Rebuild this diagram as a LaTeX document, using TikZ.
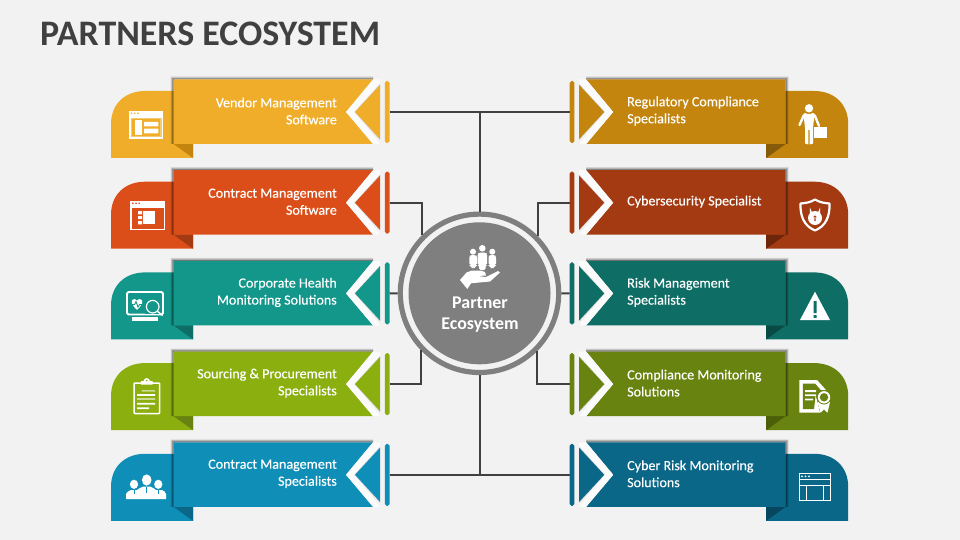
\documentclass[tikz,border=0pt]{standalone}
\usepackage{fontspec}
\setmainfont{Carlito}
\newfontfamily\lblfont[FakeBold=0.25]{Carlito}
\definecolor{bgc}{HTML}{F2F2F2}
\definecolor{linec}{HTML}{404040}
\definecolor{hubc}{HTML}{7F7F7F}
\definecolor{ca}{HTML}{F0AD29}\definecolor{cad}{HTML}{C3850E}
\definecolor{cb}{HTML}{DC4E19}\definecolor{cbd}{HTML}{A33A12}
\definecolor{cc}{HTML}{12978A}\definecolor{ccd}{HTML}{0E6E66}
\definecolor{cd}{HTML}{8CAF10}\definecolor{cdd}{HTML}{68830F}
\definecolor{ce}{HTML}{0F8FB8}\definecolor{ced}{HTML}{0A6788}
\definecolor{cf}{HTML}{855A08}\definecolor{cg}{HTML}{6E2509}
\definecolor{ch}{HTML}{0A4A45}\definecolor{ci}{HTML}{4B5F08}
\definecolor{cj}{HTML}{06465E}
\tikzset{
  conn/.style={draw=linec,line width=2pt},
  barnode/.style={rectangle,rounded corners=1.8pt,minimum width=4.6pt,minimum height=62pt,inner sep=0pt,outer sep=0pt,fill=#1},
  lbl/.style={text=white,font=\lblfont\fontsize{14.05}{17}\selectfont,inner sep=0pt},
}
% #1 dy, #2 colour, #3 fold colour, #4 bar name
\newcommand\ribbon[4]{%
 \begin{scope}[shift={(0,#1)}]
  \fill[#2] (111,158)--(111,124) .. controls (111,104) and (125,91) .. (145,91)--(193,91)--(193,158)--cycle;
  \fill[#3] (173.5,144)--(193,144)--(193,158)--cycle;
  \foreach \o/\a in {3/.10,2.2/.14,1.4/.18,.7/.22}{
   \fill[black,opacity=\a] (173.5-\o,144)--(173.5-\o,79.5-\o)--(373,79.5-\o)--(373,79.5)--(173.5,79.5)--(173.5,144)--cycle;}
  \fill[#2] (173.5,79.5)--(373,79.5)--(346,112)--(373,144)--(173.5,144)--cycle;
  \fill[white!70!bgc] (373,79.5)--(346,112)--(373,144)--(380,144)--(355,112)--(380,84)--(380,79.5)--cycle;
  \draw[black!18,line width=.8pt] (380,84.5)--(355,112)--(380,139.5);
  \fill[#2] (380,85)--(355,112)--(380,139)--cycle;
  \node[barnode=#2] (#4) at (387.2,112) {};
 \end{scope}}
\begin{document}
\begin{tikzpicture}[x=1pt,y=-1pt]
\useasboundingbox (0,0) rectangle (960,540);
\fill[bgc] (0,0) rectangle (960,540);
\node[anchor=base west,inner sep=0pt,text=linec,font=\fontsize{35.9}{36}\selectfont\bfseries] (title) at (40,46) {PARTNERS ECOSYSTEM};

% left ribbons
\ribbon{0}{ca}{cad}{barA}
\ribbon{90.7}{cb}{cbd}{barB}
\ribbon{181.4}{cc}{ccd}{barC}
\ribbon{272.1}{cd}{cdd}{barD}
\ribbon{362.8}{ce}{ced}{barE}
% right ribbons (mirrored)
\begin{scope}[shift={(959.2,0)},xscale=-1]
\ribbon{0}{cad}{cf}{barF}
\ribbon{90.7}{cbd}{cg}{barG}
\ribbon{181.4}{ccd}{ch}{barH}
\ribbon{272.1}{cdd}{ci}{barI}
\ribbon{362.8}{ced}{cj}{barJ}
\end{scope}

% hub
\node[circle,draw=hubc,line width=5.2pt,fill=bgc,minimum size=158.4pt,inner sep=0pt,outer sep=2.6pt] (hub) at (479.5,293.3) {};
\node[circle,fill=hubc,minimum size=142pt,inner sep=0pt] (hubin) at (hub.center) {};

% connectors
\draw[conn] (barA.east) -| (hub.north);
\draw[conn] (barF.west) -| (hub.north);
\draw[conn] (barE.east) -| (hub.south);
\draw[conn] (barJ.west) -| (hub.south);
\draw[conn] (barB.east) -| (hub.135.5);
\draw[conn] (barG.west) -| (hub.44.5);
\draw[conn] (barD.east) -| (hub.224.5);
\draw[conn] (barI.west) -| (hub.315.5);
\draw[conn] (barC.east) -- (hub.west);
\draw[conn] (barH.west) -- (hub.east);

% labels
\node[lbl,anchor=east,align=right] (t1) at (337,111) {Vendor Management\\Software};
\node[lbl,anchor=east,align=right] (t2) at (337,201.7) {Contract Management\\Software};
\node[lbl,anchor=east,align=right] (t3) at (337,292.4) {Corporate Health\\Monitoring Solutions};
\node[lbl,anchor=east,align=right] (t4) at (337,383.1) {Sourcing \& Procurement\\Specialists};
\node[lbl,anchor=east,align=right] (t5) at (337,473.8) {Contract Management\\Specialists};
\node[lbl,anchor=west,align=left] (t6) at (627,111) {Regulatory Compliance\\Specialists};
\node[lbl,anchor=west,align=left] (t7) at (627,201.7) {Cybersecurity Specialist};
\node[lbl,anchor=west,align=left] (t8) at (627,292.4) {Risk Management\\Specialists};
\node[lbl,anchor=west,align=left] (t9) at (627,383.1) {Compliance Monitoring\\Solutions};
\node[lbl,anchor=west,align=left] (t10) at (627,473.8) {Cyber Risk Monitoring\\Solutions};
\node[text=white,font=\fontsize{17.9}{21}\selectfont\bfseries,align=center,inner sep=0pt] (hubt) at (480,315) {Partner\\Ecosystem};

% hub icon
\fill[white] (473,251.7) circle (3) (482.3,248.3) circle (3.3) (492.3,251.7) circle (3);
\fill[white] (469.3,256.5) [rounded corners=1.5pt] --(470.5,255)--(476,255)--(477,256.5)--(477,265)--(475.8,265)--(475.8,268)--(470.6,268)--(470.6,265)--(469.3,265)--cycle;
\fill[white] (477.7,254) [rounded corners=1.5pt] --(479,252.5)--(486,252.5)--(487,254)--(487,265)--(485.5,265)--(485.5,270)--(479,270)--(479,265)--(477.7,265)--cycle;
\fill[white] (488.5,256.5) [rounded corners=1.5pt] --(489.5,255)--(495,255)--(496,256.5)--(496,265)--(494.8,265)--(494.8,268)--(489.6,268)--(489.6,265)--(488.5,265)--cycle;
\fill[white] (460,280) --(466.5,272.5)--(472,270.5)--(480,270.5)--(485,272)--(486,275.5)--(478,276)--(486,277)--(498,271)--(500,272.5)--(490,281.5)--(471,283.3)--(467.3,289)--cycle;

% L1 window
\fill[white] (129,111) rectangle (163,139);
\fill[white!35!ca] (130.5,117.7) rectangle (161.5,137.5);
\fill[ca] (132,119) rectangle (160,136.3);
\fill[ca] (131.5,113.3) circle (.9) (134.7,113.3) circle (.9) (137.9,113.3) circle (.9);
\fill[white] (135,120) rectangle (142.3,134.8);
\fill[white] (144,122) rectangle (158.3,126.5) (144,128.7) rectangle (158.3,133.5);

% L2 window
\fill[white] (130,201) rectangle (165,230);
\fill[cb] (131.5,207.5) rectangle (163.5,228.5);
\fill[cb] (132.8,203.3) circle (.95) (136,203.3) circle (.95) (139.2,203.3) circle (.95);
\fill[white] (138,211) rectangle (142,214.3) (138,216) rectangle (142,219) (138,221) rectangle (142,224.3);
\fill[white] (143,211) rectangle (155,224.3);

% L3 monitor
\draw[white,line width=1.8pt,rounded corners=1.5pt] (127,292)--(163,292)--(163,314.5)--(127,314.5)--cycle;
\fill[white] (132,317) rectangle (158,320.5);
\fill[white] (137,300.5) .. controls (134.5,297.5) and (130.5,299.5) .. (132,303.5) .. controls (133,306) and (135,308) .. (137,310) .. controls (139,308) and (141,306) .. (142,303.5) .. controls (143.5,299.5) and (139.5,297.5) .. (137,300.5) --cycle;
\draw[cc,line width=.9pt] (131,304.5)--(134.5,304.5)--(136,301.5)--(138,307)--(139.5,304.5)--(143,304.5);
\fill[cc] (145,298) rectangle (161,313.5);
\draw[white,line width=1.2pt] (152.7,306.7) circle (6.3);
\draw[white,line width=1.4pt] (157.3,311.2)--(162.7,315.5);

% L4 clipboard
\draw[white,line width=1.5pt,rounded corners=1pt] (134,383)--(159.7,383)--(159.7,413.5)--(134,413.5)--cycle;
\fill[white] (146.7,378) .. controls (144.5,378) and (144,380) .. (143.5,381) -- (141,381)--(141,384.5)--(152.5,384.5)--(152.5,381)--(150,381) .. controls (149.5,380) and (149,378) .. (146.7,378)--cycle;
\fill[cd] (146.7,380.5) circle (.9);
\fill[white!55!cd] (141.7,390) rectangle (155,391.7) (137,398.2) rectangle (155,399.9);
\fill[white] (137,394.2) rectangle (155,395.9) (137,402.8) rectangle (155,404.5) (137,407.3) rectangle (149,409);

% L5 people
\fill[white] (146.7,480) ellipse (4.8 and 5.6) (134,484.3) ellipse (4.1 and 4.6) (158.3,484.3) ellipse (4.1 and 4.6);
\fill[white] (126,499)--(126,494)--(128,491.5)--(131,490)--(137,490)--(139,488.5)--(143,486.7)--(150.5,486.7)--(154,488.5)--(156,490)--(162,490)--(164.5,491.5)--(166,494)--(166,499)--cycle;
\draw[ce,line width=.7pt] (134,490)--(134,494) (146.7,487)--(146.7,493) (158.3,490)--(158.3,494);

% R1 businessman
\fill[white] (809,108.3) circle (4.2);
\draw[white,line width=2.4pt,line cap=round,line join=round] (799.5,125)--(803.5,116)--(805.5,114) (812.5,114)--(815,116)--(819,126);
\fill[white] (803.5,113.8)--(814.5,113.8)--(813,128)--(813,143.5)--(809.7,144.5)--(809.7,130)--(808.3,130)--(808.3,144.5)--(805,143.5)--(805,128)--cycle;
\fill[white] (814,127) rectangle (827.3,138.3);

% R2 shield
\draw[white,line width=2.2pt,line join=round] (815,199.5) .. controls (810,202.5) and (806,203) .. (800.5,203.5) .. controls (800,216) and (804,226) .. (815,230.5) .. controls (826,226) and (830,216) .. (829.5,203.5) .. controls (824,203) and (820,202.5) .. (815,199.5)--cycle;
\fill[white] (815,218) circle (7);
\draw[white,line width=1.6pt] (810.7,214)--(810.7,211.5) arc[x radius=4.3,y radius=4.3,start angle=180,end angle=0]--(819.3,214);
\fill[cbd] (815,217) circle (1.7) (814.3,217) rectangle (815.7,221);

% R3 warning
\fill[white] (815,291.7)--(830,320)--(800,320)--cycle;
\fill[ccd] (813.5,301) rectangle (816.5,313) (813.5,315) rectangle (816.5,317.8);

% R4 certificate
\fill[white] (799.3,380)--(817,380)--(826,390)--(814,390)--(818,404)--(820,412.7)--(799.3,412.7)--cycle;
\fill[cdd] (802.8,383.5)--(815,383.5)--(822,391.5)--(816,392)--(814,409.2)--(802.8,409.2)--cycle;
\fill[white] (805,390.2) rectangle (816,392) (805,394.3) rectangle (816,396.1) (805,398.5) rectangle (813,400.3);
\fill[white] (817.5,402)--(820.5,412.7)--(824,409.5)--(827.5,412.7)--(830,402)--cycle;
\fill[cdd] (824,397.3) circle (7.2);
\fill[white] (824,397.3) circle (6.2);
\fill[cdd] (824,397.3) circle (4.2);

% R5 window
\draw[white,line width=1pt] (799.8,473.8) rectangle (830.2,500.2);
\draw[white,line width=1pt] (799.8,479)--(830.2,479) (799.8,485)--(830.2,485) (806.7,485)--(806.7,500.2) (823.3,485)--(823.3,500.2);
\fill[white] (802,476.3) circle (1) (805.5,476.3) circle (1) (809,476.3) circle (1);
\end{tikzpicture}
\end{document}
